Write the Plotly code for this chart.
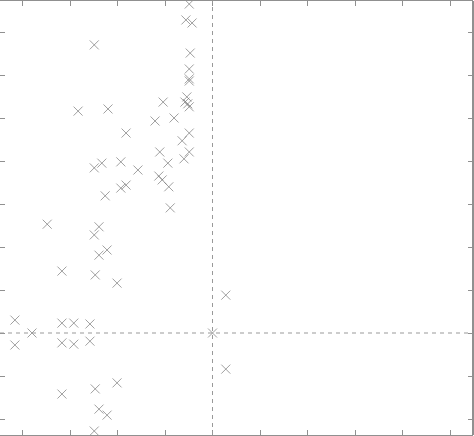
import plotly.graph_objects as go

# points (axis units = one tick step)
x_vals = [-0.49, -0.56, -0.43, -2.49, -0.47, -0.49, -0.49, -0.49, -0.54, -0.58,
          -0.52, -0.49, -1.04, -2.83, -2.20, -1.21, -0.81, -1.82, -0.49, -0.64,
          -1.11, -0.49, -0.60, -2.49, -2.33, -1.93, -1.57, -0.94, -1.13, -1.06,
          -0.92, -1.93, -1.82, -2.26, -0.89, -3.48, -2.39, -2.49, -2.39, -2.22,
          -3.17, -2.47, -2.01, 0.28, -4.16, -3.17, -2.92, -2.58, -3.80, 0.00,
          -4.16, -3.17, -2.92, -2.58, 0.28, -3.17, -2.47, -2.01, -2.39, -2.22,
          -2.49]
y_vals = [7.65, 7.28, 7.21, 6.70, 6.51, 6.14, 5.91, 5.86, 5.49, 5.37,
          5.33, 5.26, 5.37, 5.16, 5.21, 4.93, 5.00, 4.65, 4.65, 4.47,
          4.21, 4.21, 4.05, 3.84, 3.95, 3.98, 3.79, 3.95, 3.65, 3.56,
          3.40, 3.37, 3.44, 3.19, 2.91, 2.53, 2.47, 2.28, 1.81, 1.93,
          1.44, 1.35, 1.16, 0.88, 0.30, 0.23, 0.23, 0.21, 0.00, 0.00,
          -0.28, -0.23, -0.26, -0.19, -0.84, -1.42, -1.30, -1.16, -1.77, -1.91,
          -2.28]
x_ticks = [-4, -3, -2, -1, 0, 1, 2, 3, 4, 5]
y_ticks = [-2, -1, 0, 1, 2, 3, 4, 5, 6, 7]

spine = "#909090"

fig = go.Figure()
fig.add_trace(go.Scatter(
    x=x_vals, y=y_vals, mode="markers",
    marker=dict(symbol="x-thin", size=9,
                line=dict(width=1, color="rgba(120,120,120,0.7)")),
    showlegend=False, hoverinfo="skip"))

# dashed reference lines through the origin
fig.add_hline(y=0, line=dict(color="#999999", width=1, dash="4px,4px"))
fig.add_vline(x=0, line=dict(color="#999999", width=1, dash="4px,4px"))

# right spine (left one is cut off in the reference)
fig.add_shape(type="line", xref="paper", yref="paper", x0=1, x1=1, y0=0, y1=1,
              line=dict(color=spine, width=2))

fig.update_xaxes(range=[-4.474, 5.484], tickvals=x_ticks, showticklabels=False,
                 ticks="inside", ticklen=5, tickcolor=spine, tickwidth=1,
                 showline=True, linecolor=spine, linewidth=2, mirror="ticks",
                 showgrid=False, zeroline=False)
fig.update_yaxes(range=[-2.372, 7.721], tickvals=y_ticks, showticklabels=False,
                 ticks="inside", ticklen=5, tickcolor=spine, tickwidth=1,
                 showline=False, mirror="ticks",
                 showgrid=False, zeroline=False)

fig.update_layout(width=474, height=436,
                  margin=dict(l=0, r=1, t=1, b=1),
                  paper_bgcolor="white", plot_bgcolor="white")

# drop the browser's default page margin so the figure sits at the corner
fig.write_html("out.html", config={"displayModeBar": False},
               post_script="document.body.style.margin='0';")
